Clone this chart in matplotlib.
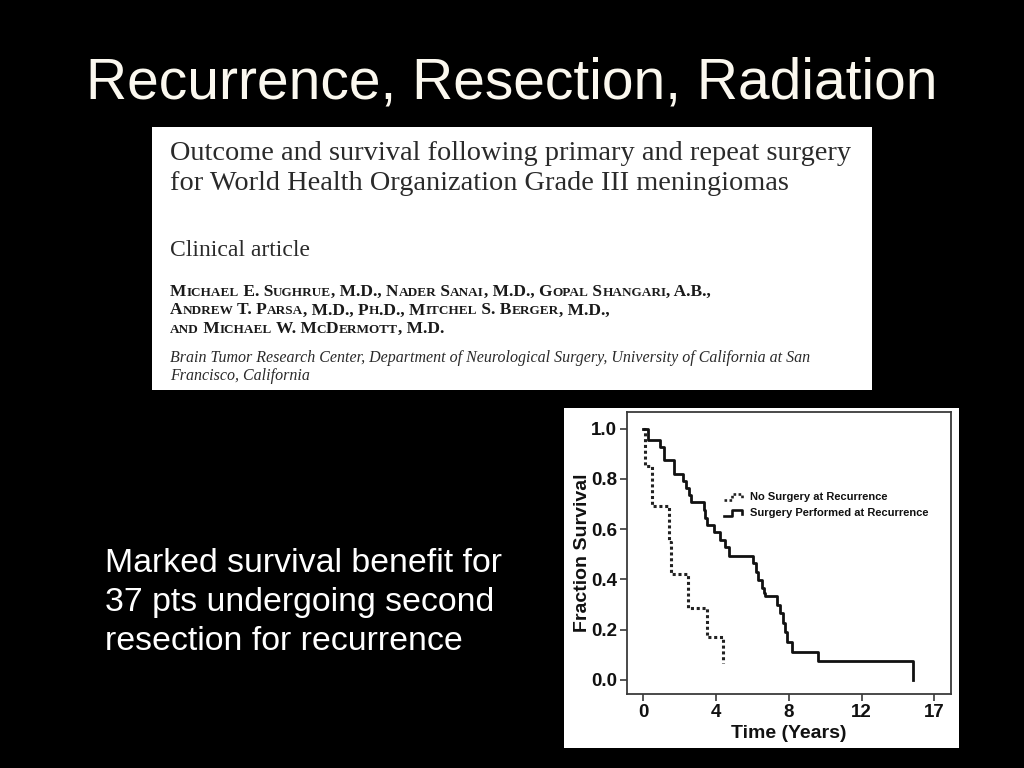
import matplotlib
matplotlib.use("Agg")
import matplotlib.pyplot as plt
from matplotlib.patches import Rectangle

# ---------------- data ----------------
slide_title = "Recurrence, Resection, Radiation"
body_lines = ["Marked survival benefit for",
              "37 pts undergoing second",
              "resection for recurrence"]
article_title = ["Outcome and survival following primary and repeat surgery",
                 "for World Health Organization Grade III meningiomas"]
article_type = "Clinical article"
authors = ["Michael E. Sughrue, M.D., Nader Sanai, M.D., Gopal Shangari, A.B.,",
           "Andrew T. Parsa, M.D., Ph.D., Mitchel S. Berger, M.D.,",
           "and Michael W. McDermott, M.D."]
affiliation = ["Brain Tumor Research Center, Department of Neurological Surgery, University of California at San",
               "Francisco, California"]

# Kaplan-Meier: no surgery at recurrence (dotted)
nosurg_time = [0.0, 0.09, 0.46, 1.43, 1.52, 2.47, 3.48, 4.40]
nosurg_surv = [1.0, 0.850, 0.692, 0.550, 0.421, 0.287, 0.171, 0.068]

# Kaplan-Meier: surgery performed at recurrence (solid)
surg_time = [0.0, 0.27, 0.90, 1.14, 1.69, 2.18, 2.35, 2.50, 2.62, 3.32, 3.42, 3.50,
             3.88, 4.23, 4.47, 4.73, 6.05, 6.20, 6.32, 6.51, 6.64, 6.69, 7.33, 7.52,
             7.66, 7.78, 7.90, 8.15, 9.59, 14.81]
surg_surv = [1.0, 0.955, 0.926, 0.875, 0.820, 0.790, 0.765, 0.735, 0.707, 0.675, 0.645, 0.615,
             0.588, 0.558, 0.527, 0.495, 0.464, 0.430, 0.397, 0.364, 0.345, 0.333, 0.298, 0.265,
             0.225, 0.190, 0.151, 0.112, 0.0745, 0.0]

legend_labels = ["No Surgery at Recurrence", "Surgery Performed at Recurrence"]
x_ticks = [0, 4, 8, 12, 16]
x_ticklabels = ["0", "4", "8", "12", "17"]
y_ticks = [0.0, 0.2, 0.4, 0.6, 0.8, 1.0]
y_ticklabels = ["0.0", "0.2", "0.4", "0.6", "0.8", "1.0"]
x_label = "Time (Years)"
y_label = "Fraction Survival"

# ---------------- figure ----------------
W, H = 1024, 768
fig = plt.figure(figsize=(W / 100, H / 100), dpi=100)
fig.patch.set_facecolor("black")
renderer = fig.canvas.get_renderer()


def fx(x):
    return x / W


def fy(y):
    return 1 - y / H


sans = ["Liberation Sans", "DejaVu Sans"]
serif = ["Liberation Serif", "DejaVu Serif"]

# slide title
fig.text(fx(512), fy(98), slide_title, fontsize=41, color="#fbf8ef",
         family=sans, ha="center", va="baseline")

# body text
for i, line in enumerate(body_lines):
    fig.text(fx(105), fy(571.5 + i * 39.3), line, fontsize=24.4, color="white",
             family=sans, ha="left", va="baseline")

# article box
fig.patches.append(Rectangle((fx(152), fy(390)), 720 / W, 263 / H,
                             transform=fig.transFigure, facecolor="white",
                             edgecolor="none", zorder=-5))
for i, line in enumerate(article_title):
    fig.text(fx(170), fy(159.5 + i * 30), line, fontsize=20.4, color="#2a2a2a",
             family=serif, ha="left", va="baseline")
fig.text(fx(170), fy(256.5), article_type, fontsize=17, color="#2a2a2a",
         family=serif, ha="left", va="baseline")


def smallcaps(x_px, y_px, s, size, **kw):
    runs = []
    for ch in s:
        small = ch.islower()
        c = ch.upper() if small else ch
        if runs and runs[-1][1] == small:
            runs[-1][0] += c
        else:
            runs.append([c, small])
    x = x_px
    for text, small in runs:
        t = fig.text(fx(x), fy(y_px), text, fontsize=size * (0.76 if small else 1.0),
                     ha="left", va="baseline", **kw)
        bb = t.get_window_extent(renderer)
        x += bb.width


for i, line in enumerate(authors):
    smallcaps(170, 296 + i * 18.5, line, 12.5, family=serif, weight="bold",
              color="#1a1a1a")

for i, line in enumerate(affiliation):
    fig.text(fx(170), fy(361.5 + i * 18.5), line, fontsize=11.5, color="#2a2a2a",
             family=serif, style="italic", ha="left", va="baseline")

# chart panel
fig.patches.append(Rectangle((fx(564), fy(748)), 395 / W, 340 / H,
                             transform=fig.transFigure, facecolor="white",
                             edgecolor="none", zorder=-5))

ax_l, ax_r, ax_t, ax_b = 626.7, 950.7, 412, 694
ax = fig.add_axes([fx(ax_l), fy(ax_b), (ax_r - ax_l) / W, (ax_b - ax_t) / H])
ax.set_zorder(2)
ax.set_facecolor("white")
ax.plot(nosurg_time, nosurg_surv, drawstyle="steps-post", color="#222222",
        linewidth=2.2, linestyle=(0, (1, 0.9)))
ax.plot(surg_time, surg_surv, drawstyle="steps-post", color="#111111",
        linewidth=2.0)

ax.set_xlim(-0.91, 16.9)
ax.set_ylim(-0.057, 1.067)
ax.set_xticks(x_ticks)
ax.set_xticklabels(x_ticklabels)
ax.set_yticks(y_ticks)
ax.set_yticklabels(y_ticklabels)
for sp in ax.spines.values():
    sp.set_color("#3a3a3a")
    sp.set_linewidth(1.3)
ax.tick_params(direction="out", length=5, width=1.2, color="#3a3a3a",
               labelsize=13.5, pad=2)
for lab in ax.get_xticklabels() + ax.get_yticklabels():
    lab.set_fontweight("bold")
    lab.set_family(sans)
    lab.set_color("#111111")
ax.set_xlabel(x_label, fontsize=14, fontweight="bold", family=sans,
              color="#111111", labelpad=3)
ax.set_ylabel(y_label, fontsize=14, fontweight="bold", family=sans,
              color="#111111", labelpad=0)


# legend (custom SPSS-like step handles)
def px_to_ax(x, y):
    return (x - ax_l) / (ax_r - ax_l), (ax_b - y) / (ax_b - ax_t)


rows_y = [496.5, 512.5]
styles = [dict(linestyle=(0, (1, 0.9)), linewidth=1.9, color="#222222"),
          dict(linestyle="-", linewidth=1.9, color="#111111")]
for yrow, label, st in zip(rows_y, legend_labels, styles):
    pts = [(724, yrow + 3), (732, yrow + 3), (732, yrow - 3), (742, yrow - 3), (742, yrow + 1)]
    axpts = [px_to_ax(px, py) for px, py in pts]
    ax.plot([p[0] for p in axpts], [p[1] for p in axpts], transform=ax.transAxes,
            clip_on=False, **st)
    tx, ty = px_to_ax(750, yrow)
    ax.text(tx, ty, label, transform=ax.transAxes, fontsize=8, fontweight="bold",
            family=sans, color="#111111", ha="left", va="center")

fig.savefig("out.png", dpi=100, facecolor="black")
